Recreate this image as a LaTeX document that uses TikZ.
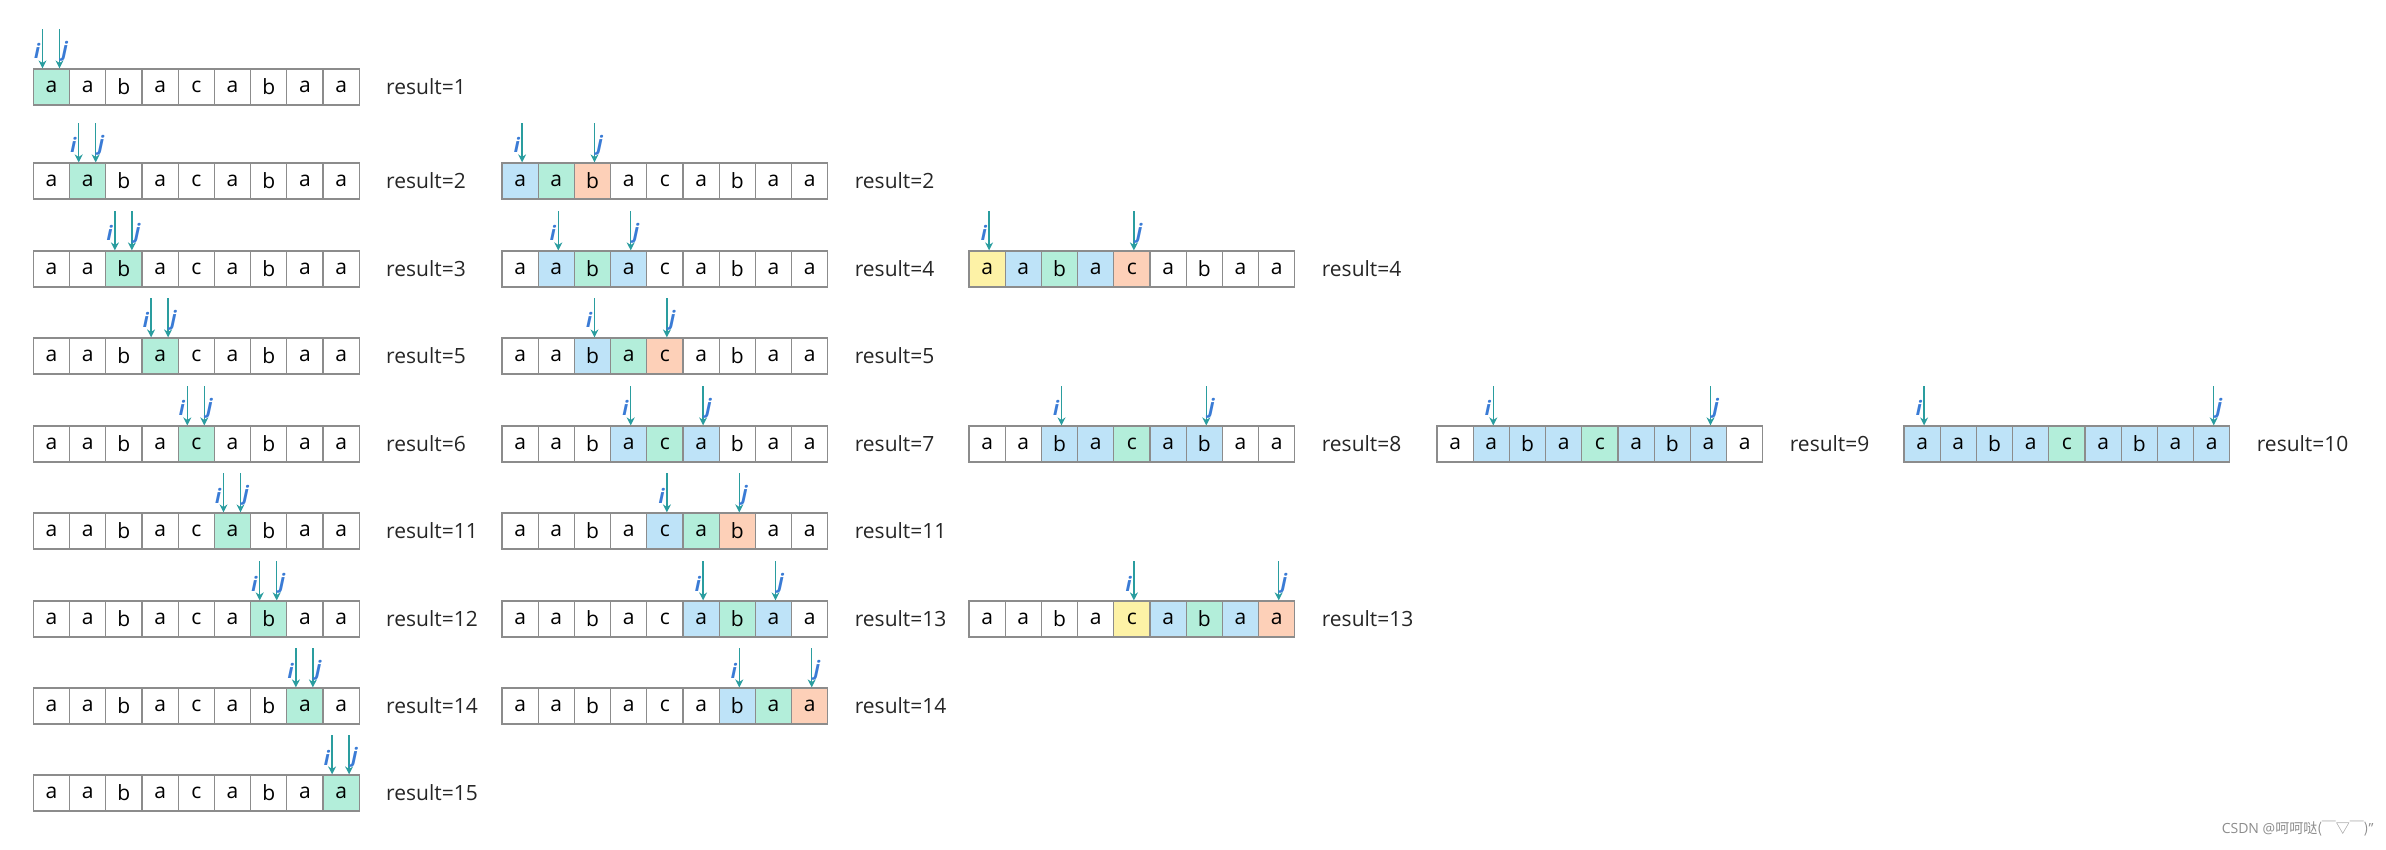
\documentclass[tikz,border=0pt]{standalone}
\usepackage{fontspec}
\setmainfont{Open Sans}
\newfontfamily\cjk{Noto Sans CJK SC}
\usetikzlibrary{arrows.meta}
\definecolor{cellG}{HTML}{B3EEDA}
\definecolor{cellB}{HTML}{BEE3F8}
\definecolor{cellO}{HTML}{FDD0B8}
\definecolor{cellY}{HTML}{FDF2A6}
\definecolor{ptrC}{HTML}{2A9D9F}
\definecolor{lblC}{HTML}{3A7BD5}
\tikzset{%
  >={Stealth[width=4pt,length=4pt]},
  % cells of the string and pointers
      cell/.style = {rectangle, draw=black!45, line width=0.6pt,
                     minimum width=18.1pt, minimum height=18pt,
                     inner sep=0pt, font=\fontsize{10.5}{12}\selectfont},
       ptr/.style = {->, draw=ptrC, line width=0.7pt},
       lbl/.style = {text=lblC, inner sep=1pt,
                     font=\fontsize{10}{12}\bfseries\itshape\selectfont},
    result/.style = {anchor=west, inner sep=0pt, text=black!85,
                     font=\fontsize{10.5}{12}\selectfont},
}
% #1 name, #2 x, #3 y, #4 colours, #5 i, #6 j, #7 result
\newcommand\strrow[7]{%
  \foreach \c [count=\k from 0] in {#4}
    \node[cell, fill=\c] (#1-\k) at ({#2+(\k+0.5)*18.1},#3)
      {\ifcase\k a\or a\or b\or a\or c\or a\or b\or a\or a\fi};
  \ifnum#5=#6
    \coordinate (#1-ib) at ([xshift=-4.5pt]#1-#5.north);
    \coordinate (#1-jb) at ([xshift=4pt]#1-#6.north);
  \else
    \coordinate (#1-ib) at ([xshift=1pt]#1-#5.north);
    \coordinate (#1-jb) at ([xshift=1pt]#1-#6.north);
  \fi
  \coordinate (#1-it) at ([yshift=19.5pt]#1-ib);
  \coordinate (#1-jt) at ([yshift=19.5pt]#1-jb);
  \draw[ptr] (#1-it) -- (#1-ib);
  \draw[ptr] (#1-jt) -- (#1-jb);
  \node[lbl, anchor=east] at ([yshift=-11pt]#1-it) {i};
  \node[lbl, anchor=west] at ([yshift=-11pt]#1-jt) {j};
  \node[result] (#1-res) at ([xshift=13pt]#1-8.east) {result=#7};
}
\begin{document}
\begin{tikzpicture}[x=1pt, y=-1pt]
  \useasboundingbox (0,0) rectangle (1193,425);
  % first column: i and j on the same cell
  \strrow{aA}{16.7}{43.5}{cellG,white,white,white,white,white,white,white,white}{0}{0}{1}
  \strrow{aB}{16.7}{90.5}{white,cellG,white,white,white,white,white,white,white}{1}{1}{2}
  \strrow{aC}{16.7}{134.5}{white,white,cellG,white,white,white,white,white,white}{2}{2}{3}
  \strrow{aD}{16.7}{178}{white,white,white,cellG,white,white,white,white,white}{3}{3}{5}
  \strrow{aE}{16.7}{222}{white,white,white,white,cellG,white,white,white,white}{4}{4}{6}
  \strrow{aF}{16.7}{265.5}{white,white,white,white,white,cellG,white,white,white}{5}{5}{11}
  \strrow{aG}{16.7}{309.5}{white,white,white,white,white,white,cellG,white,white}{6}{6}{12}
  \strrow{aH}{16.7}{353}{white,white,white,white,white,white,white,cellG,white}{7}{7}{14}
  \strrow{aI}{16.7}{396.5}{white,white,white,white,white,white,white,white,cellG}{8}{8}{15}
  % second column
  \strrow{bB}{251}{90.5}{cellB,cellG,cellO,white,white,white,white,white,white}{0}{2}{2}
  \strrow{bC}{251}{134.5}{white,cellB,cellG,cellB,white,white,white,white,white}{1}{3}{4}
  \strrow{bD}{251}{178}{white,white,cellB,cellG,cellO,white,white,white,white}{2}{4}{5}
  \strrow{bE}{251}{222}{white,white,white,cellB,cellG,cellB,white,white,white}{3}{5}{7}
  \strrow{bF}{251}{265.5}{white,white,white,white,cellB,cellG,cellO,white,white}{4}{6}{11}
  \strrow{bG}{251}{309.5}{white,white,white,white,white,cellB,cellG,cellB,white}{5}{7}{13}
  \strrow{bH}{251}{353}{white,white,white,white,white,white,cellB,cellG,cellO}{6}{8}{14}
  % third column
  \strrow{cC}{484.5}{134.5}{cellY,cellB,cellG,cellB,cellO,white,white,white,white}{0}{4}{4}
  \strrow{cE}{484.5}{222}{white,white,cellB,cellB,cellG,cellB,cellB,white,white}{2}{6}{8}
  \strrow{cG}{484.5}{309.5}{white,white,white,white,cellY,cellB,cellG,cellB,cellO}{4}{8}{13}
  % fourth and fifth column
  \strrow{dE}{718.5}{222}{white,cellB,cellB,cellB,cellG,cellB,cellB,cellB,white}{1}{7}{9}
  \strrow{eE}{952}{222}{cellB,cellB,cellB,cellB,cellG,cellB,cellB,cellB,cellB}{0}{8}{10}
  \node[anchor=east, text=black!45, inner sep=0pt, font=\fontsize{7}{8}\selectfont]
    (mark) at (1187,414.5) {CSDN @{\cjk 呵呵哒(￣▽￣)}"};
\end{tikzpicture}
\end{document}
